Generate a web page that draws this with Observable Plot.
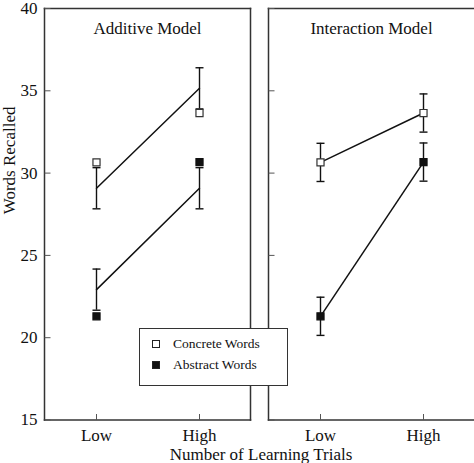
<!DOCTYPE html>
<html><head><meta charset="utf-8">
<script src="https://cdn.jsdelivr.net/npm/d3@7"></script>
<script src="https://cdn.jsdelivr.net/npm/@observablehq/plot@0.6"></script>
<style>
html,body{margin:0;padding:0;background:#fff;overflow:hidden}
#wrap{position:relative;width:474px;height:463px;font-family:"Liberation Serif","Times New Roman",serif;color:#111}
#wrap svg{display:block}
.legend{position:absolute;left:139px;top:328px;width:147px;height:56px;border:1.5px solid #333;background:#fff;box-sizing:content-box}
.legend .row{position:absolute;left:0;height:16px;display:flex;align-items:center;font-size:13.5px;line-height:16px;white-space:nowrap}
.legend .sw{width:6px;height:6px;border:1.3px solid #222;margin-left:12px;margin-right:13px;flex:none}
.xlabel{position:absolute;left:46px;width:430px;top:447.5px;text-align:center;font-size:17px;line-height:13px;white-space:nowrap}
</style></head><body><div id="wrap"></div>
<script>
// ---- data ----
const models = ["Additive Model", "Interaction Model"];
const trials = ["Low", "High"];
const wordTypes = ["Concrete Words", "Abstract Words"];
// observed means (squares)
const concreteObserved = [30.65, 33.65];
const abstractObserved = [21.3, 30.67];
// additive model predictions (lines) and error half-widths
const additiveConcrete = [29.08, 35.15];
const additiveAbstract = [22.92, 29.08];
const additiveError = [1.25, 1.25];
// interaction model: lines through observed means, error half-widths
const interactionError = [1.16, 1.16];
const yTicks = [15, 20, 25, 30, 35, 40];
const yLabel = "Words Recalled";
const xLabel = "Number of Learning Trials";

const rows = [];
models.forEach((model, m) => trials.forEach((trial, i) => wordTypes.forEach((type, t) => {
  const obs = t === 0 ? concreteObserved[i] : abstractObserved[i];
  const fit = m === 0 ? (t === 0 ? additiveConcrete[i] : additiveAbstract[i]) : obs;
  const err = m === 0 ? additiveError[i] : interactionError[i];
  rows.push({model, trial, type, obs, fit, lo: fit - err, hi: fit + err});
})));

const cap = {draw(c) { c.moveTo(-4, 0); c.lineTo(4, 0); }};
const tickIn = {draw(c) { c.moveTo(0, 0); c.lineTo(6, 0); }};
const tickUp = {draw(c) { c.moveTo(0, 0); c.lineTo(0, -6); }};
const frameStyle = {stroke: "#333", strokeWidth: 1.5};
const ink = "#111";

const chart = Plot.plot({
  width: 474, height: 463,
  marginLeft: 44, marginRight: 0, marginTop: 8, marginBottom: 43.5,
  style: {fontFamily: '"Liberation Serif","Times New Roman",serif', fontSize: "17px", color: ink, background: "white"},
  fx: {domain: models, paddingInner: 0.0817, paddingOuter: 0, axis: null, label: null},
  x: {type: "point", domain: trials, padding: 0.5, tickSize: 0, tickPadding: 8.5, label: null},
  y: {domain: [15, 40], ticks: yTicks, tickSize: 0, tickPadding: 7, label: null},
  marks: [
    Plot.frame({anchor: "left", ...frameStyle}),
    Plot.frame({anchor: "top", ...frameStyle}),
    Plot.frame({anchor: "bottom", ...frameStyle}),
    Plot.frame({anchor: "right", facetAnchor: "left", ...frameStyle}),
    Plot.dot(yTicks, {y: d => d, frameAnchor: "left", symbol: tickIn, stroke: "#555", strokeWidth: 1}),
    Plot.dot(trials, {x: d => d, frameAnchor: "bottom", symbol: tickUp, stroke: "#555", strokeWidth: 1}),
    Plot.text(models, {fx: d => d, text: d => d, frameAnchor: "top", lineAnchor: "middle", dy: 20, fontSize: 17}),
    Plot.text([yLabel], {text: d => d, frameAnchor: "left", rotate: -90, dx: -35, fontSize: 17, facetAnchor: "left"}),
    Plot.line(rows, {fx: "model", x: "trial", y: "fit", z: "type", stroke: ink, strokeWidth: 1.5}),
    Plot.ruleX(rows, {fx: "model", x: "trial", y1: "lo", y2: "hi", stroke: ink, strokeWidth: 1.4}),
    Plot.dot(rows, {fx: "model", x: "trial", y: "lo", symbol: cap, stroke: ink, strokeWidth: 1.4}),
    Plot.dot(rows, {fx: "model", x: "trial", y: "hi", symbol: cap, stroke: ink, strokeWidth: 1.4}),
    Plot.dot(rows.filter(d => d.type === wordTypes[0]), {fx: "model", x: "trial", y: "obs", symbol: "square", r: 4, fill: "white", stroke: "#333", strokeWidth: 1.2}),
    Plot.dot(rows.filter(d => d.type === wordTypes[1]), {fx: "model", x: "trial", y: "obs", symbol: "square", r: 4, fill: ink, stroke: ink, strokeWidth: 1.2})
  ]
});

const wrap = document.getElementById("wrap");
wrap.appendChild(chart);

const legend = document.createElement("div");
legend.className = "legend";
wordTypes.forEach((name, i) => {
  const row = document.createElement("div");
  row.className = "row";
  row.style.top = (7 + i * 20.5) + "px";
  const sw = document.createElement("span");
  sw.className = "sw";
  sw.style.background = i === 0 ? "white" : ink;
  const label = document.createElement("span");
  label.textContent = name;
  row.appendChild(sw);
  row.appendChild(label);
  legend.appendChild(row);
});
wrap.appendChild(legend);

const xl = document.createElement("div");
xl.className = "xlabel";
xl.textContent = xLabel;
wrap.appendChild(xl);
</script></body></html>
